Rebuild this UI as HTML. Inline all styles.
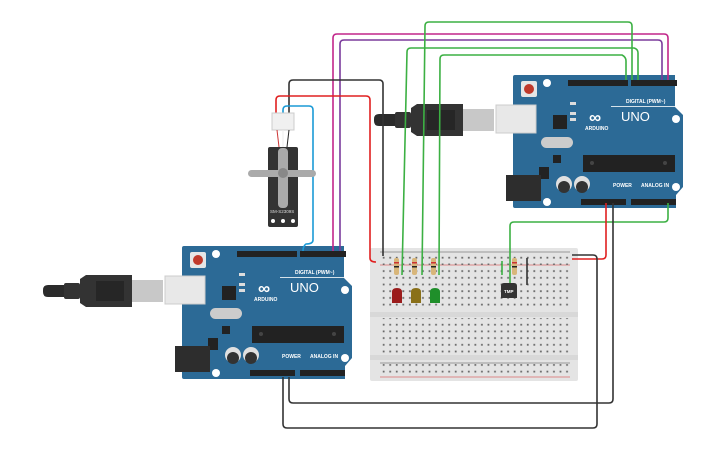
<!DOCTYPE html>
<html><head><meta charset="utf-8"><style>
html,body{margin:0;padding:0;background:#fff;}
svg{display:block;font-family:"Liberation Sans",sans-serif;}
</style></head><body>
<svg width="725" height="453" viewBox="0 0 725 453" xmlns="http://www.w3.org/2000/svg">
<defs>
<pattern id="holes" x="374" y="0" width="6.55" height="6.7" patternUnits="userSpaceOnUse">
<rect x="2.2" y="2.2" width="1.8" height="1.8" fill="#6a6a6a"/>
</pattern>
<g id="ard">
  <path d="M-139,44 Q-139,39 -134,39 L-104,39 L-104,51 L-134,51 Q-139,51 -139,46Z" fill="#2b2b2b"/>
  <rect x="-118" y="37" width="16" height="16" rx="2" fill="#333"/>
  <path d="M-102,33 L-96,29 H-50 V61 H-96 L-102,57Z" fill="#333"/>
  <rect x="-86" y="35" width="28" height="20" fill="#262626"/>
  <rect x="-50" y="34" width="31" height="22" fill="#c8c8c8"/>
  <path d="M2,0 H162 V32 L170,40 V112 L163,120 V133 H2 Q0,133 0,131 V2 Q0,0 2,0Z" fill="#2c6a96"/>
  <rect x="-17" y="30" width="40" height="28" fill="#e8e8e8" stroke="#ccc"/>
  <rect x="8" y="6" width="16" height="16" rx="2" fill="#e6e6e6"/>
  <circle cx="16" cy="14" r="5" fill="#c0392b"/>
  <circle cx="34" cy="8" r="4" fill="#fff"/>
  <circle cx="163" cy="44" r="4" fill="#fff"/>
  <circle cx="163" cy="112" r="4" fill="#fff"/>
  <circle cx="34" cy="127" r="4" fill="#fff"/>
  <rect x="55" y="5" width="60" height="6" fill="#222"/>
  <rect x="118" y="5" width="46" height="6" fill="#222"/>
  <text x="113" y="28" font-size="5" fill="#fff" font-weight="bold">DIGITAL (PWM~)</text>
  <rect x="98" y="31" width="65" height="0.8" fill="#fff"/>
  <text x="76" y="48" font-size="17" fill="#fff" font-weight="bold">∞</text>
  <text x="72" y="55" font-size="5" fill="#fff" font-weight="bold">ARDUINO</text>
  <text x="108" y="46" font-size="13" fill="#fff">UNO</text>
  <rect x="57" y="27" width="6" height="3" fill="#ddd"/>
  <rect x="57" y="37" width="6" height="3" fill="#ddd"/>
  <rect x="57" y="43" width="6" height="3" fill="#ddd"/>
  <rect x="40" y="40" width="14" height="14" fill="#222"/>
  <rect x="28" y="62" width="32" height="11" rx="5.5" fill="#ccc"/>
  <rect x="40" y="80" width="8" height="8" fill="#222"/>
  <rect x="26" y="92" width="10" height="12" fill="#222"/>
  <rect x="70" y="80" width="92" height="17" fill="#222"/>
  <circle cx="79" cy="88" r="2" fill="#444"/><circle cx="152" cy="88" r="2" fill="#444"/>
  <rect x="-7" y="100" width="35" height="26" fill="#2d2d2d"/>
  <circle cx="51" cy="109" r="8" fill="#e0e0e0"/><circle cx="51" cy="112" r="6" fill="#333"/>
  <circle cx="69" cy="109" r="8" fill="#e0e0e0"/><circle cx="69" cy="112" r="6" fill="#333"/>
  <text x="100" y="112" font-size="5" fill="#fff" font-weight="bold">POWER</text>
  <text x="128" y="112" font-size="5" fill="#fff" font-weight="bold">ANALOG IN</text>
  <rect x="68" y="124" width="45" height="6" fill="#222"/>
  <rect x="118" y="124" width="45" height="6" fill="#222"/>
</g>
</defs>

<rect x="370" y="248" width="208" height="133" rx="2" fill="#e4e4e4"/>
<rect x="370" y="312" width="208" height="5" fill="#d8d8d8"/>
<rect x="370" y="355" width="208" height="5" fill="#d8d8d8"/>
<line x1="380" y1="252" x2="570" y2="252" stroke="#999"/>
<line x1="380" y1="265" x2="570" y2="265" stroke="#d88"/>
<line x1="380" y1="363" x2="570" y2="363" stroke="#999"/>
<line x1="380" y1="377" x2="570" y2="377" stroke="#d88"/>
<rect x="380" y="253" width="190" height="12" fill="url(#holes)"/>
<rect x="380" y="268" width="190" height="40" fill="url(#holes)"/>
<rect x="380" y="318" width="190" height="35" fill="url(#holes)"/>
<rect x="380" y="364" width="190" height="12" fill="url(#holes)"/>

<use href="#ard" transform="translate(182,246)"/>
<use href="#ard" transform="translate(513,75)"/>

<g fill="none" stroke-width="1.6" stroke-linejoin="round">
<path d="M333,251 V38 Q333,34 337,34 H664 Q668,34 668,38 V80" stroke="#c2268a"/>
<path d="M340,251 V44 Q340,40 344,40 H658 Q662,40 662,44 V80" stroke="#7b3b9c"/>
<path d="M422,275 L425,26 Q425,22 429,22 H628 Q632,22 632,26 V80" stroke="#3cb043"/>
<path d="M402,275 L407,52 Q407,48 411,48 H634 Q638,49 638,53 V80" stroke="#3cb043"/>
<path d="M439,275 L440,59 Q440,55 444,55 H622 Q626,57 626,61 V80" stroke="#3cb043"/>
<path d="M668,203 V218 Q668,222 664,222 H514 Q510,222 510,226 V288" stroke="#3cb043"/>
<line x1="502" y1="261" x2="502" y2="275" stroke="#3cb043"/>
<path d="M606,203 V255 Q606,259 602,259 H572" stroke="#e02020"/>
<path d="M613,203 V399 Q613,403 609,403 H293 Q289,403 289,399 V377" stroke="#333"/>
<path d="M572,255 H593 Q597,255 597,259 V424 Q597,428 593,428 H287 Q283,428 283,424 V377" stroke="#333"/>
<path d="M289,118 V84 Q289,80 293,80 H379 Q383,80 383,84 V256" stroke="#333"/>
<path d="M276,118 V100 Q276,96 280,96 H366 Q370,96 370,100 V258 Q370,262 376,262" stroke="#e02020"/>
<path d="M283,118 V110 Q283,106 287,106 H309 Q313,106 313,110 V240 Q313,244 306,244 Q303,246 303,251" stroke="#1a9ad6"/>
<line x1="527" y1="258" x2="527" y2="285" stroke="#333"/>
</g>

<rect x="272" y="113" width="22" height="17" fill="#f0f0f0" stroke="#ccc"/>
<line x1="277" y1="130" x2="279" y2="147" stroke="#c33"/><line x1="283" y1="130" x2="283" y2="147" stroke="#eee"/><line x1="289" y1="130" x2="287" y2="147" stroke="#222"/>
<rect x="268" y="147" width="30" height="80" rx="2" fill="#333"/>
<rect x="248" y="170" width="68" height="7" rx="3.5" fill="#aaa"/>
<rect x="278" y="148" width="10" height="60" rx="4" fill="#aaa"/>
<circle cx="283" cy="173" r="5" fill="#888"/>
<text x="270" y="213" font-size="4.5" fill="#ddd">SM-S2309S</text>
<circle cx="273" cy="221" r="2" fill="#fff"/><circle cx="283" cy="221" r="2" fill="#fff"/><circle cx="293" cy="221" r="2" fill="#fff"/>

<g>
<rect x="394" y="258" width="5" height="17" rx="2" fill="#d8b67a"/><rect x="394" y="262" width="5" height="1.5" fill="#c33"/><rect x="394" y="266" width="5" height="1.5" fill="#222"/>
<rect x="412" y="258" width="5" height="17" rx="2" fill="#d8b67a"/><rect x="412" y="262" width="5" height="1.5" fill="#c33"/><rect x="412" y="266" width="5" height="1.5" fill="#222"/>
<rect x="431" y="258" width="5" height="17" rx="2" fill="#d8b67a"/><rect x="431" y="262" width="5" height="1.5" fill="#c33"/><rect x="431" y="266" width="5" height="1.5" fill="#222"/>
<rect x="512" y="258" width="5" height="17" rx="2" fill="#d8b67a"/><rect x="512" y="262" width="5" height="1.5" fill="#c33"/><rect x="512" y="266" width="5" height="1.5" fill="#222"/>
</g>
<path d="M392,303 V292 Q392,288 397,288 Q402,288 402,292 V303Z" fill="#9b1c1c"/>
<path d="M411,303 V292 Q411,288 416,288 Q421,288 421,292 V303Z" fill="#8a7018"/>
<path d="M430,303 V292 Q430,288 435,288 Q440,288 440,292 V303Z" fill="#1f8f2a"/>
<path d="M501,298 V286 Q501,283 504,283 H514 Q517,283 517,286 V298Z" fill="#333"/>
<text x="504" y="293" font-size="4.5" fill="#fff" font-weight="bold">TMP</text>
</svg>
</body></html>
